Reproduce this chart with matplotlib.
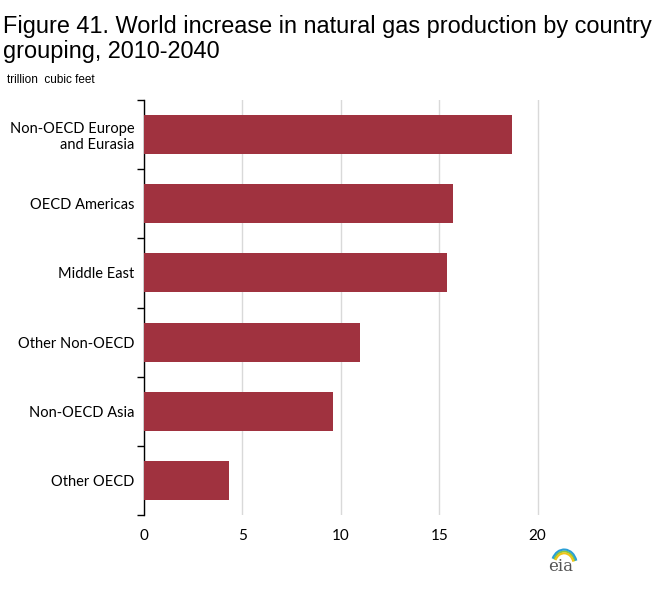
import matplotlib.pyplot as plt
from matplotlib.patches import Arc

# Data (top to bottom as shown)
regions = ['Non-OECD Europe\nand Eurasia', 'OECD Americas', 'Middle East',
           'Other Non-OECD', 'Non-OECD Asia', 'Other OECD']
increase = [18.7, 15.7, 15.4, 11.0, 9.6, 4.3]
x_ticks = [0, 5, 10, 15, 20]

bar_color = '#A0323F'

fig = plt.figure(figsize=(6.56, 5.9), dpi=100)
ax = fig.add_axes([0.2195, 0.1271, 0.66, 0.7034])

pos = list(range(len(regions)))[::-1]
ax.barh(pos, increase, height=0.565, color=bar_color, zorder=3)

ax.set_xlim(0, 22)
ax.set_ylim(-0.5, len(regions) - 0.5)

# light vertical gridlines
ax.set_xticks(x_ticks)
ax.xaxis.grid(True, color='#d9d9d9', linewidth=1)
ax.set_axisbelow(True)
ax.tick_params(axis='x', length=0, pad=10, labelsize=11)
for lbl in ax.get_xticklabels():
    lbl.set_fontfamily('Lato')

# category labels, ticks between categories
ax.set_yticks(pos)
ax.set_yticklabels(regions, fontfamily='Lato', fontsize=10.5, ha='right')
ax.tick_params(axis='y', which='major', length=0, pad=7)
ax.set_yticks([p - 0.5 for p in range(len(regions) + 1)], minor=True)
ax.tick_params(axis='y', which='minor', length=5, width=1, color='black')

for s in ['top', 'right', 'bottom']:
    ax.spines[s].set_visible(False)
ax.spines['left'].set_color('black')
ax.spines['left'].set_linewidth(1)

# titles
fig.text(0.005, 0.944, 'Figure 41. World increase in natural gas production by country',
         fontfamily='Liberation Sans', fontsize=16.9, va='baseline')
fig.text(0.005, 0.901, 'grouping, 2010-2040',
         fontfamily='Liberation Sans', fontsize=16.9, va='baseline')
fig.text(0.011, 0.859, 'trillion  cubic feet',
         fontfamily='Liberation Sans', fontsize=8.5, va='baseline')

# eia logo
fig.text(0.836, 0.033, 'eia', fontfamily='DejaVu Serif', fontsize=12,
         color='#555555', va='baseline')
for r, c in [(0.028, '#8cc63f'), (0.024, '#f0c419'), (0.032, '#2a9fd6')]:
    fig.add_artist(Arc((0.860, 0.043), r * 1.2, r * 1.6, theta1=20, theta2=150,
                       transform=fig.transFigure, color=c, linewidth=1.5))

plt.savefig('out.png', dpi=100)
